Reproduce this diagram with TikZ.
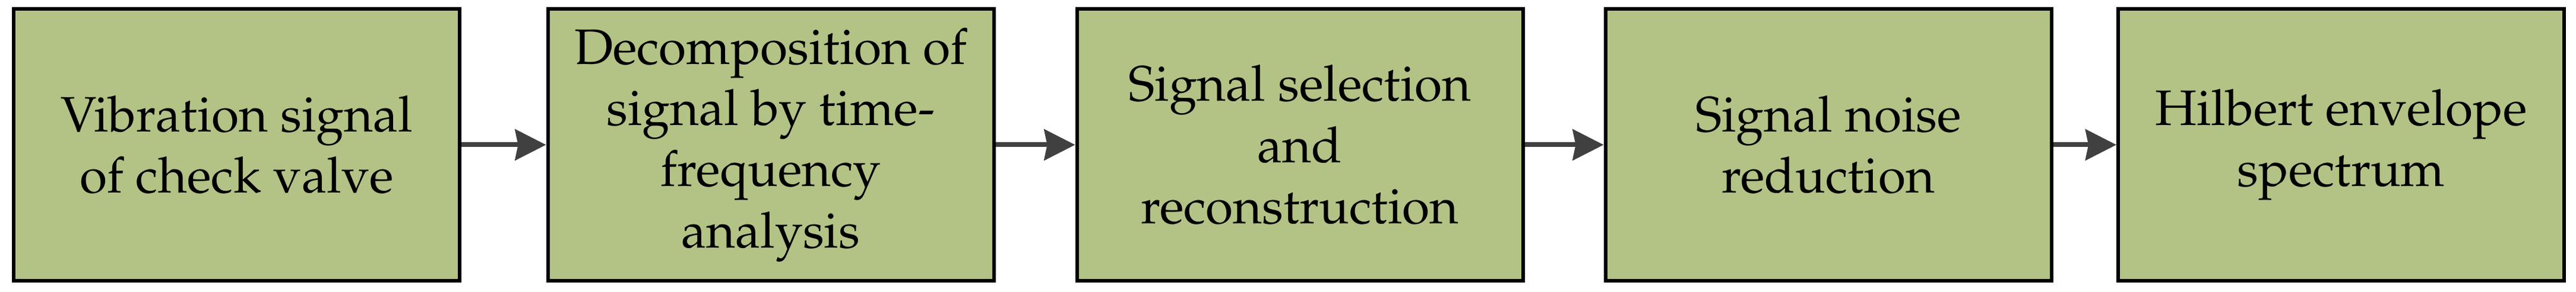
\documentclass[tikz,border=0pt]{standalone}
\usepackage[T1]{fontenc}
\usepackage{mathpazo}
\usepackage{xcolor}
\definecolor{myolive}{RGB}{179,194,133}
\definecolor{mydarkgray}{RGB}{64,64,64}
\usepackage{tikz}
\usetikzlibrary{arrows.meta}
\newcommand{\widthstage}{90.12pt}
\newcommand{\heightstage}{55.08pt}
\tikzset{
    common/.style={anchor=west, draw, rectangle, line width=0.72pt, minimum height=\heightstage},
    stage/.style={common, fill=myolive, minimum width=\widthstage, align=center, inner sep=1pt,
        font=\fontsize{10.1}{12.4}\selectfont},
    flow/.style={-{Stealth[length=6.24pt, width=6.24pt, inset=0.6pt]}, line width=0.96pt, mydarkgray}
}
\begin{document}
\begin{tikzpicture}
        \useasboundingbox (0,0) rectangle (520.56pt,59.04pt);
        \path (2.4pt,29.7pt)
            node[stage] (vibration) {Vibration signal\\of check valve}
            to ++(0:\widthstage + 17.82pt) node[stage] (decomposition)
                {Decomposition of\\signal by time-\\frequency\\analysis}
            to ++(0:\widthstage + 16.8pt) node[stage] (selection)
                {Signal selection\\and\\reconstruction}
            to ++(0:\widthstage + 16.68pt) node[stage] (denoise)
                {Signal noise\\reduction}
            to ++(0:\widthstage + 13.5pt) node[stage] (envelope)
                {Hilbert envelope\\spectrum};

        % \draw[dotted] (vibration) -- (envelope);
        \draw[flow] (vibration) -- (decomposition);
        \draw[flow] (decomposition) -- (selection);
        \draw[flow] (selection) -- (denoise);
        \draw[flow] (denoise) -- (envelope);
    \end{tikzpicture}
\end{document}
